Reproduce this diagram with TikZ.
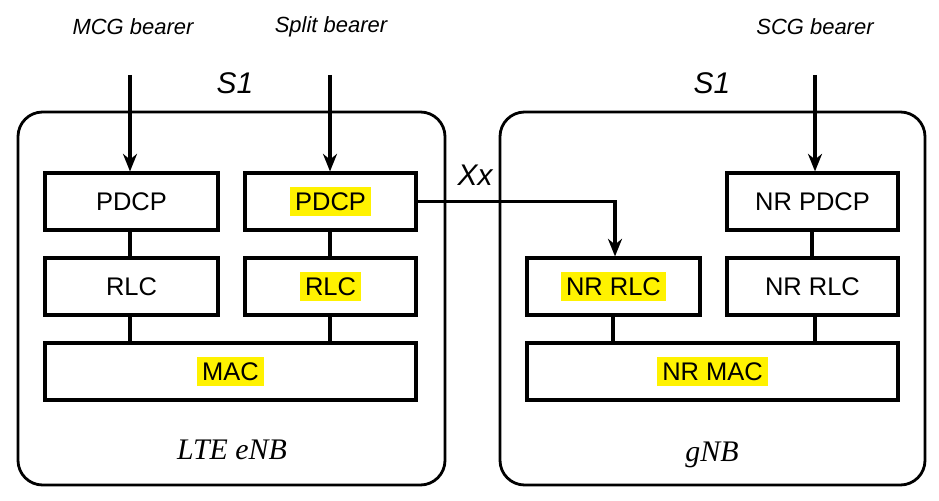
\documentclass[tikz,border=0pt]{standalone}
\usepackage{fontspec}
\setmainfont{Liberation Sans}
\newfontfamily\serifit{Liberation Serif}
\usetikzlibrary{arrows.meta}
\begin{document}
\begin{tikzpicture}[x=0.02cm,y=-0.02cm,
  big/.style={draw,line width=1.6pt,rounded corners=14pt},
  blk/.style={draw,line width=1.8pt,inner sep=0pt,font=\fontsize{14.5}{16}\selectfont},
  ln/.style={line width=1.8pt},
  ar/.style={line width=1.8pt,-{Stealth[length=10pt,width=8pt]}},
  lab/.style={font=\fontsize{12.5}{14}\selectfont\itshape},
  s1/.style={font=\fontsize{17}{18}\selectfont\itshape}]
\useasboundingbox (0,0) rectangle (939,500);
\draw[big] (18,112) rectangle (445,485);
\draw[big] (500,112) rectangle (925,485);
% left blocks
\node[blk,minimum width=173*0.02cm,minimum height=57*0.02cm] (p1) at (131.5,201.5) {PDCP};
\node[blk,minimum width=171*0.02cm,minimum height=57*0.02cm] (p2) at (330.5,201.5) {\colorbox{yellow}{PDCP}};
\node[blk,minimum width=173*0.02cm,minimum height=57*0.02cm] (r1) at (131.5,286.5) {RLC};
\node[blk,minimum width=171*0.02cm,minimum height=57*0.02cm] (r2) at (330.5,286.5) {\colorbox{yellow}{RLC}};
\node[blk,minimum width=371*0.02cm,minimum height=57*0.02cm] (m1) at (230.5,371.5) {\colorbox{yellow}{MAC}};
% right blocks
\node[blk,minimum width=173*0.02cm,minimum height=57*0.02cm] (nr1) at (613.5,286.5) {\colorbox{yellow}{NR RLC}};
\node[blk,minimum width=171*0.02cm,minimum height=57*0.02cm] (np) at (812.5,201.5) {NR PDCP};
\node[blk,minimum width=171*0.02cm,minimum height=57*0.02cm] (nr2) at (812.5,286.5) {NR RLC};
\node[blk,minimum width=371*0.02cm,minimum height=57*0.02cm] (nm) at (712.5,371.5) {\colorbox{yellow}{NR MAC}};
% connectors
\draw[ln] (p1.south -| 130,0) -- (r1.north -| 130,0);
\draw[ln] (r1.south -| 130,0) -- (m1.north -| 130,0);
\draw[ln] (p2.south -| 330,0) -- (r2.north -| 330,0);
\draw[ln] (r2.south -| 330,0) -- (m1.north -| 330,0);
\draw[ln] (nr1.south -| 613,0) -- (nm.north -| 613,0);
\draw[ln] (np.south -| 812,0) -- (nr2.north -| 812,0);
\draw[ln] (nr2.south -| 815,0) -- (nm.north -| 815,0);
% labels and arrows
\node[lab] (mcg) at (133,27) {MCG bearer};
\node[lab] (spl) at (331,27) {Split bearer};
\node[lab] (scg) at (815,27) {SCG bearer};
\node[s1] (s1a) at (235,83) {S1};
\node[s1] (s1b) at (712,83) {S1};
\node[s1] (xx) at (475,175) {Xx};
\coordinate (a1) at (130,75);
\coordinate (a2) at (330,75);
\coordinate (a3) at (815,75);
\draw[ar] (a1) -- (p1.north -| a1);
\draw[ar] (a2) -- (p2.north -| a2);
\draw[ar] (a3) -- (np.north -| a3);
\draw[ar] (p2.east) -- (615,201.5) -- (nr1.north -| 615,0);
\node[font=\serifit\fontsize{17}{18}\selectfont\itshape] (lte) at (232,450) {LTE eNB};
\node[font=\serifit\fontsize{17}{18}\selectfont\itshape] (gnb) at (712,455) {gNB};
\end{tikzpicture}
\end{document}
